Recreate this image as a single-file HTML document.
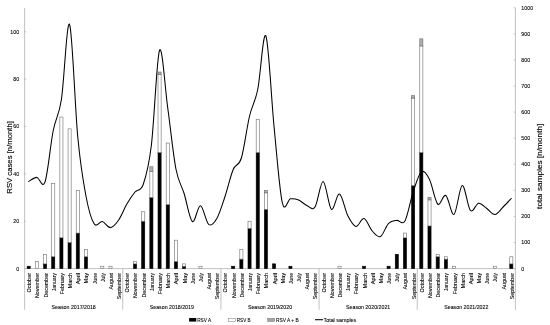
<!DOCTYPE html>
<html lang="en"><head><meta charset="utf-8"><title>RSV cases per month</title>
<style>html,body{margin:0;padding:0;background:#fff;}body{width:550px;height:325px;overflow:hidden;}svg{display:block;}</style>
</head><body>
<svg width="550" height="325" viewBox="0 0 550 325" font-family="'Liberation Sans', sans-serif" fill="#000">
<style>text{stroke:#000;stroke-width:0.09px;}text.t{stroke-width:0.14px;}</style>
<rect width="550" height="325" fill="#fff"/>
<g stroke="#a8a8a8" stroke-width="0.7" fill="none">
<line x1="24.6" y1="7.9" x2="24.6" y2="268.6"/>
<line x1="515.4" y1="7.9" x2="515.4" y2="268.6"/>
<line x1="24.6" y1="268.6" x2="515.4" y2="268.6"/>
<line x1="24.6" y1="268.60" x2="26.200000000000003" y2="268.60"/>
<line x1="24.6" y1="221.23" x2="26.200000000000003" y2="221.23"/>
<line x1="24.6" y1="173.86" x2="26.200000000000003" y2="173.86"/>
<line x1="24.6" y1="126.49" x2="26.200000000000003" y2="126.49"/>
<line x1="24.6" y1="79.12" x2="26.200000000000003" y2="79.12"/>
<line x1="24.6" y1="31.75" x2="26.200000000000003" y2="31.75"/>
<line x1="515.4" y1="268.60" x2="513.8" y2="268.60"/>
<line x1="515.4" y1="242.52" x2="513.8" y2="242.52"/>
<line x1="515.4" y1="216.43" x2="513.8" y2="216.43"/>
<line x1="515.4" y1="190.35" x2="513.8" y2="190.35"/>
<line x1="515.4" y1="164.26" x2="513.8" y2="164.26"/>
<line x1="515.4" y1="138.18" x2="513.8" y2="138.18"/>
<line x1="515.4" y1="112.09" x2="513.8" y2="112.09"/>
<line x1="515.4" y1="86.00" x2="513.8" y2="86.00"/>
<line x1="515.4" y1="59.92" x2="513.8" y2="59.92"/>
<line x1="515.4" y1="33.84" x2="513.8" y2="33.84"/>
<line x1="515.4" y1="7.75" x2="513.8" y2="7.75"/>
<line x1="24.60" y1="268.6" x2="24.60" y2="309.8"/>
<line x1="122.76" y1="268.6" x2="122.76" y2="309.8"/>
<line x1="220.92" y1="268.6" x2="220.92" y2="309.8"/>
<line x1="319.08" y1="268.6" x2="319.08" y2="309.8"/>
<line x1="417.24" y1="268.6" x2="417.24" y2="309.8"/>
<line x1="515.40" y1="268.6" x2="515.40" y2="309.8"/>
</g>
<g stroke-width="0.6">
<rect x="27.14" y="266.23" width="3.1" height="2.37" fill="#000" stroke="#000"/>
<rect x="35.32" y="261.49" width="3.1" height="7.11" fill="#fff" stroke="#6e6e6e"/>
<rect x="43.50" y="263.86" width="3.1" height="4.74" fill="#000" stroke="#000"/>
<rect x="43.50" y="254.39" width="3.1" height="9.47" fill="#fff" stroke="#6e6e6e"/>
<rect x="51.68" y="256.76" width="3.1" height="11.84" fill="#000" stroke="#000"/>
<rect x="51.68" y="183.33" width="3.1" height="73.42" fill="#fff" stroke="#6e6e6e"/>
<rect x="59.86" y="237.81" width="3.1" height="30.79" fill="#000" stroke="#000"/>
<rect x="59.86" y="117.02" width="3.1" height="120.79" fill="#fff" stroke="#6e6e6e"/>
<rect x="68.04" y="242.55" width="3.1" height="26.05" fill="#000" stroke="#000"/>
<rect x="68.04" y="128.86" width="3.1" height="113.69" fill="#fff" stroke="#6e6e6e"/>
<rect x="76.22" y="233.07" width="3.1" height="35.53" fill="#000" stroke="#000"/>
<rect x="76.22" y="190.44" width="3.1" height="42.63" fill="#fff" stroke="#6e6e6e"/>
<rect x="84.40" y="256.76" width="3.1" height="11.84" fill="#000" stroke="#000"/>
<rect x="84.40" y="249.65" width="3.1" height="7.11" fill="#fff" stroke="#6e6e6e"/>
<rect x="100.76" y="266.23" width="3.1" height="2.37" fill="#fff" stroke="#6e6e6e"/>
<rect x="108.94" y="266.23" width="3.1" height="2.37" fill="#fff" stroke="#6e6e6e"/>
<rect x="133.48" y="263.86" width="3.1" height="4.74" fill="#000" stroke="#000"/>
<rect x="133.48" y="261.49" width="3.1" height="2.37" fill="#fff" stroke="#6e6e6e"/>
<rect x="141.66" y="221.23" width="3.1" height="47.37" fill="#000" stroke="#000"/>
<rect x="141.66" y="211.76" width="3.1" height="9.47" fill="#fff" stroke="#6e6e6e"/>
<rect x="149.84" y="197.55" width="3.1" height="71.06" fill="#000" stroke="#000"/>
<rect x="149.84" y="171.49" width="3.1" height="26.05" fill="#fff" stroke="#6e6e6e"/>
<rect x="149.84" y="166.75" width="3.1" height="4.74" fill="#b0b0b0" stroke="#666"/>
<rect x="158.02" y="152.54" width="3.1" height="116.06" fill="#000" stroke="#000"/>
<rect x="158.02" y="74.38" width="3.1" height="78.16" fill="#fff" stroke="#6e6e6e"/>
<rect x="158.02" y="72.01" width="3.1" height="2.37" fill="#b0b0b0" stroke="#666"/>
<rect x="166.20" y="204.65" width="3.1" height="63.95" fill="#000" stroke="#000"/>
<rect x="166.20" y="143.07" width="3.1" height="61.58" fill="#fff" stroke="#6e6e6e"/>
<rect x="174.38" y="261.49" width="3.1" height="7.11" fill="#000" stroke="#000"/>
<rect x="174.38" y="240.18" width="3.1" height="21.32" fill="#fff" stroke="#6e6e6e"/>
<rect x="182.56" y="266.23" width="3.1" height="2.37" fill="#000" stroke="#000"/>
<rect x="182.56" y="263.86" width="3.1" height="2.37" fill="#fff" stroke="#6e6e6e"/>
<rect x="198.92" y="266.23" width="3.1" height="2.37" fill="#fff" stroke="#6e6e6e"/>
<rect x="231.64" y="266.23" width="3.1" height="2.37" fill="#000" stroke="#000"/>
<rect x="239.82" y="259.13" width="3.1" height="9.47" fill="#000" stroke="#000"/>
<rect x="239.82" y="249.65" width="3.1" height="9.47" fill="#fff" stroke="#6e6e6e"/>
<rect x="248.00" y="228.34" width="3.1" height="40.26" fill="#000" stroke="#000"/>
<rect x="248.00" y="221.23" width="3.1" height="7.11" fill="#fff" stroke="#6e6e6e"/>
<rect x="256.18" y="152.54" width="3.1" height="116.06" fill="#000" stroke="#000"/>
<rect x="256.18" y="119.38" width="3.1" height="33.16" fill="#fff" stroke="#6e6e6e"/>
<rect x="264.36" y="209.39" width="3.1" height="59.21" fill="#000" stroke="#000"/>
<rect x="264.36" y="192.81" width="3.1" height="16.58" fill="#fff" stroke="#6e6e6e"/>
<rect x="264.36" y="190.44" width="3.1" height="2.37" fill="#b0b0b0" stroke="#666"/>
<rect x="272.54" y="263.86" width="3.1" height="4.74" fill="#000" stroke="#000"/>
<rect x="288.90" y="266.23" width="3.1" height="2.37" fill="#000" stroke="#000"/>
<rect x="337.98" y="266.23" width="3.1" height="2.37" fill="#fff" stroke="#6e6e6e"/>
<rect x="362.52" y="266.23" width="3.1" height="2.37" fill="#000" stroke="#000"/>
<rect x="387.06" y="266.23" width="3.1" height="2.37" fill="#000" stroke="#000"/>
<rect x="395.24" y="254.39" width="3.1" height="14.21" fill="#000" stroke="#000"/>
<rect x="403.42" y="237.81" width="3.1" height="30.79" fill="#000" stroke="#000"/>
<rect x="403.42" y="233.07" width="3.1" height="4.74" fill="#fff" stroke="#6e6e6e"/>
<rect x="411.60" y="185.70" width="3.1" height="82.90" fill="#000" stroke="#000"/>
<rect x="411.60" y="98.07" width="3.1" height="87.63" fill="#fff" stroke="#6e6e6e"/>
<rect x="411.60" y="95.70" width="3.1" height="2.37" fill="#b0b0b0" stroke="#666"/>
<rect x="419.78" y="152.54" width="3.1" height="116.06" fill="#000" stroke="#000"/>
<rect x="419.78" y="45.96" width="3.1" height="106.58" fill="#fff" stroke="#6e6e6e"/>
<rect x="419.78" y="38.86" width="3.1" height="7.11" fill="#b0b0b0" stroke="#666"/>
<rect x="427.96" y="225.97" width="3.1" height="42.63" fill="#000" stroke="#000"/>
<rect x="427.96" y="199.91" width="3.1" height="26.05" fill="#fff" stroke="#6e6e6e"/>
<rect x="427.96" y="197.54" width="3.1" height="2.37" fill="#b0b0b0" stroke="#666"/>
<rect x="436.14" y="256.76" width="3.1" height="11.84" fill="#000" stroke="#000"/>
<rect x="436.14" y="254.39" width="3.1" height="2.37" fill="#fff" stroke="#6e6e6e"/>
<rect x="444.32" y="259.13" width="3.1" height="9.47" fill="#000" stroke="#000"/>
<rect x="444.32" y="256.76" width="3.1" height="2.37" fill="#fff" stroke="#6e6e6e"/>
<rect x="452.50" y="266.23" width="3.1" height="2.37" fill="#fff" stroke="#6e6e6e"/>
<rect x="493.40" y="266.23" width="3.1" height="2.37" fill="#fff" stroke="#6e6e6e"/>
<rect x="509.76" y="263.86" width="3.1" height="4.74" fill="#000" stroke="#000"/>
<rect x="509.76" y="256.76" width="3.1" height="7.11" fill="#fff" stroke="#6e6e6e"/>
</g>
<path d="M28.69,181.40 C30.05,180.73 34.14,177.33 36.87,177.40 C39.60,177.47 42.32,189.62 45.05,181.80 C47.78,173.98 50.50,144.22 53.23,130.50 C55.96,116.78 58.68,117.17 61.41,99.50 C64.14,81.83 66.86,18.25 69.59,24.50 C72.32,30.75 75.04,108.42 77.77,137.00 C80.50,165.58 83.22,181.53 85.95,196.00 C88.68,210.47 91.40,219.55 94.13,223.80 C96.86,228.05 99.58,220.87 102.31,221.50 C105.04,222.13 107.76,227.85 110.49,227.60 C113.22,227.35 115.94,223.93 118.67,220.00 C121.40,216.07 124.12,208.67 126.85,204.00 C129.58,199.33 132.30,195.25 135.03,192.00 C137.76,188.75 140.48,192.33 143.21,184.50 C145.94,176.67 148.66,167.37 151.39,145.00 C154.12,122.63 156.84,56.47 159.57,50.30 C162.30,44.13 165.02,88.22 167.75,108.00 C170.48,127.78 173.20,154.75 175.93,169.00 C178.66,183.25 181.38,184.75 184.11,193.50 C186.84,202.25 189.56,219.45 192.29,221.50 C195.02,223.55 197.74,205.33 200.47,205.80 C203.20,206.27 205.92,222.18 208.65,224.30 C211.38,226.42 214.10,223.13 216.83,218.50 C219.56,213.87 222.28,204.67 225.01,196.50 C227.74,188.33 230.46,175.92 233.19,169.50 C235.92,163.08 238.64,166.92 241.37,158.00 C244.10,149.08 246.82,127.42 249.55,116.00 C252.28,104.58 255.00,102.83 257.73,89.50 C260.46,76.17 263.18,29.75 265.91,36.00 C268.64,42.25 271.36,99.25 274.09,127.00 C276.82,154.75 279.54,190.53 282.27,202.50 C285.00,214.47 287.72,199.22 290.45,198.80 C293.18,198.38 295.90,198.88 298.63,200.00 C301.36,201.12 304.08,204.33 306.81,205.50 C309.54,206.67 312.26,211.00 314.99,207.00 C317.72,203.00 320.44,181.12 323.17,181.50 C325.90,181.88 328.62,207.22 331.35,209.30 C334.08,211.38 336.80,192.97 339.53,194.00 C342.26,195.03 344.98,210.10 347.71,215.50 C350.44,220.90 353.16,225.90 355.89,226.40 C358.62,226.90 361.34,217.73 364.07,218.50 C366.80,219.27 369.52,228.00 372.25,231.00 C374.98,234.00 377.70,237.78 380.43,236.50 C383.16,235.22 385.88,225.98 388.61,223.30 C391.34,220.62 394.06,220.80 396.79,220.40 C399.52,220.00 402.24,225.63 404.97,220.90 C407.70,216.17 410.42,200.17 413.15,192.00 C415.88,183.83 418.60,173.98 421.33,171.90 C424.06,169.82 426.78,174.15 429.51,179.50 C432.24,184.85 434.96,201.33 437.69,204.00 C440.42,206.67 443.14,193.77 445.87,195.50 C448.60,197.23 451.32,216.07 454.05,214.40 C456.78,212.73 459.50,186.15 462.23,185.50 C464.96,184.85 467.68,207.55 470.41,210.50 C473.14,213.45 475.86,203.53 478.59,203.20 C481.32,202.87 484.04,206.62 486.77,208.50 C489.50,210.38 492.22,214.75 494.95,214.50 C497.68,214.25 500.40,209.67 503.13,207.00 C505.86,204.33 509.95,199.92 511.31,198.50" fill="none" stroke="#000" stroke-width="1.05" stroke-linejoin="round" stroke-linecap="round"/>
<text x="19.20" y="270.50" font-size="5.79" text-anchor="end" textLength="2.97" lengthAdjust="spacingAndGlyphs">0</text>
<text x="19.20" y="223.13" font-size="5.79" text-anchor="end" textLength="5.93" lengthAdjust="spacingAndGlyphs">20</text>
<text x="19.20" y="175.76" font-size="5.79" text-anchor="end" textLength="5.93" lengthAdjust="spacingAndGlyphs">40</text>
<text x="19.20" y="128.39" font-size="5.79" text-anchor="end" textLength="5.93" lengthAdjust="spacingAndGlyphs">60</text>
<text x="19.20" y="81.02" font-size="5.79" text-anchor="end" textLength="5.93" lengthAdjust="spacingAndGlyphs">80</text>
<text x="19.20" y="33.65" font-size="5.79" text-anchor="end" textLength="8.90" lengthAdjust="spacingAndGlyphs">100</text>
<text x="521.30" y="270.50" font-size="5.79" text-anchor="start" textLength="2.97" lengthAdjust="spacingAndGlyphs">0</text>
<text x="521.30" y="244.42" font-size="5.79" text-anchor="start" textLength="8.90" lengthAdjust="spacingAndGlyphs">100</text>
<text x="521.30" y="218.33" font-size="5.79" text-anchor="start" textLength="8.90" lengthAdjust="spacingAndGlyphs">200</text>
<text x="521.30" y="192.25" font-size="5.79" text-anchor="start" textLength="8.90" lengthAdjust="spacingAndGlyphs">300</text>
<text x="521.30" y="166.16" font-size="5.79" text-anchor="start" textLength="8.90" lengthAdjust="spacingAndGlyphs">400</text>
<text x="521.30" y="140.08" font-size="5.79" text-anchor="start" textLength="8.90" lengthAdjust="spacingAndGlyphs">500</text>
<text x="521.30" y="113.99" font-size="5.79" text-anchor="start" textLength="8.90" lengthAdjust="spacingAndGlyphs">600</text>
<text x="521.30" y="87.91" font-size="5.79" text-anchor="start" textLength="8.90" lengthAdjust="spacingAndGlyphs">700</text>
<text x="521.30" y="61.82" font-size="5.79" text-anchor="start" textLength="8.90" lengthAdjust="spacingAndGlyphs">800</text>
<text x="521.30" y="35.74" font-size="5.79" text-anchor="start" textLength="8.90" lengthAdjust="spacingAndGlyphs">900</text>
<text x="521.30" y="9.65" font-size="5.79" text-anchor="start" textLength="11.86" lengthAdjust="spacingAndGlyphs">1000</text>
<g transform="translate(31.14,273) rotate(-90)"><text x="0.00" y="0.00" font-size="5.79" text-anchor="end" textLength="19.42" lengthAdjust="spacingAndGlyphs">October</text></g>
<g transform="translate(39.32,273) rotate(-90)"><text x="0.00" y="0.00" font-size="5.79" text-anchor="end" textLength="25.12" lengthAdjust="spacingAndGlyphs">November</text></g>
<g transform="translate(47.50,273) rotate(-90)"><text x="0.00" y="0.00" font-size="5.79" text-anchor="end" textLength="24.60" lengthAdjust="spacingAndGlyphs">December</text></g>
<g transform="translate(55.68,273) rotate(-90)"><text x="0.00" y="0.00" font-size="5.79" text-anchor="end" textLength="18.30" lengthAdjust="spacingAndGlyphs">January</text></g>
<g transform="translate(63.86,273) rotate(-90)"><text x="0.00" y="0.00" font-size="5.79" text-anchor="end" textLength="21.28" lengthAdjust="spacingAndGlyphs">February</text></g>
<g transform="translate(72.04,273) rotate(-90)"><text x="0.00" y="0.00" font-size="5.79" text-anchor="end" textLength="15.39" lengthAdjust="spacingAndGlyphs">March</text></g>
<g transform="translate(80.22,273) rotate(-90)"><text x="0.00" y="0.00" font-size="5.79" text-anchor="end" textLength="11.18" lengthAdjust="spacingAndGlyphs">April</text></g>
<g transform="translate(88.40,273) rotate(-90)"><text x="0.00" y="0.00" font-size="5.79" text-anchor="end" textLength="10.45" lengthAdjust="spacingAndGlyphs">May</text></g>
<g transform="translate(96.58,273) rotate(-90)"><text x="0.00" y="0.00" font-size="5.79" text-anchor="end" textLength="10.92" lengthAdjust="spacingAndGlyphs">June</text></g>
<g transform="translate(104.76,273) rotate(-90)"><text x="0.00" y="0.00" font-size="5.79" text-anchor="end" textLength="8.93" lengthAdjust="spacingAndGlyphs">July</text></g>
<g transform="translate(112.94,273) rotate(-90)"><text x="0.00" y="0.00" font-size="5.79" text-anchor="end" textLength="16.53" lengthAdjust="spacingAndGlyphs">August</text></g>
<g transform="translate(121.12,273) rotate(-90)"><text x="0.00" y="0.00" font-size="5.79" text-anchor="end" textLength="26.24" lengthAdjust="spacingAndGlyphs">September</text></g>
<g transform="translate(129.30,273) rotate(-90)"><text x="0.00" y="0.00" font-size="5.79" text-anchor="end" textLength="19.42" lengthAdjust="spacingAndGlyphs">October</text></g>
<g transform="translate(137.48,273) rotate(-90)"><text x="0.00" y="0.00" font-size="5.79" text-anchor="end" textLength="25.12" lengthAdjust="spacingAndGlyphs">November</text></g>
<g transform="translate(145.66,273) rotate(-90)"><text x="0.00" y="0.00" font-size="5.79" text-anchor="end" textLength="24.60" lengthAdjust="spacingAndGlyphs">December</text></g>
<g transform="translate(153.84,273) rotate(-90)"><text x="0.00" y="0.00" font-size="5.79" text-anchor="end" textLength="18.30" lengthAdjust="spacingAndGlyphs">January</text></g>
<g transform="translate(162.02,273) rotate(-90)"><text x="0.00" y="0.00" font-size="5.79" text-anchor="end" textLength="21.28" lengthAdjust="spacingAndGlyphs">February</text></g>
<g transform="translate(170.20,273) rotate(-90)"><text x="0.00" y="0.00" font-size="5.79" text-anchor="end" textLength="15.39" lengthAdjust="spacingAndGlyphs">March</text></g>
<g transform="translate(178.38,273) rotate(-90)"><text x="0.00" y="0.00" font-size="5.79" text-anchor="end" textLength="11.18" lengthAdjust="spacingAndGlyphs">April</text></g>
<g transform="translate(186.56,273) rotate(-90)"><text x="0.00" y="0.00" font-size="5.79" text-anchor="end" textLength="10.45" lengthAdjust="spacingAndGlyphs">May</text></g>
<g transform="translate(194.74,273) rotate(-90)"><text x="0.00" y="0.00" font-size="5.79" text-anchor="end" textLength="10.92" lengthAdjust="spacingAndGlyphs">June</text></g>
<g transform="translate(202.92,273) rotate(-90)"><text x="0.00" y="0.00" font-size="5.79" text-anchor="end" textLength="8.93" lengthAdjust="spacingAndGlyphs">July</text></g>
<g transform="translate(211.10,273) rotate(-90)"><text x="0.00" y="0.00" font-size="5.79" text-anchor="end" textLength="16.53" lengthAdjust="spacingAndGlyphs">August</text></g>
<g transform="translate(219.28,273) rotate(-90)"><text x="0.00" y="0.00" font-size="5.79" text-anchor="end" textLength="26.24" lengthAdjust="spacingAndGlyphs">September</text></g>
<g transform="translate(227.46,273) rotate(-90)"><text x="0.00" y="0.00" font-size="5.79" text-anchor="end" textLength="19.42" lengthAdjust="spacingAndGlyphs">October</text></g>
<g transform="translate(235.64,273) rotate(-90)"><text x="0.00" y="0.00" font-size="5.79" text-anchor="end" textLength="25.12" lengthAdjust="spacingAndGlyphs">November</text></g>
<g transform="translate(243.82,273) rotate(-90)"><text x="0.00" y="0.00" font-size="5.79" text-anchor="end" textLength="24.60" lengthAdjust="spacingAndGlyphs">December</text></g>
<g transform="translate(252.00,273) rotate(-90)"><text x="0.00" y="0.00" font-size="5.79" text-anchor="end" textLength="18.30" lengthAdjust="spacingAndGlyphs">January</text></g>
<g transform="translate(260.18,273) rotate(-90)"><text x="0.00" y="0.00" font-size="5.79" text-anchor="end" textLength="21.28" lengthAdjust="spacingAndGlyphs">February</text></g>
<g transform="translate(268.36,273) rotate(-90)"><text x="0.00" y="0.00" font-size="5.79" text-anchor="end" textLength="15.39" lengthAdjust="spacingAndGlyphs">March</text></g>
<g transform="translate(276.54,273) rotate(-90)"><text x="0.00" y="0.00" font-size="5.79" text-anchor="end" textLength="11.18" lengthAdjust="spacingAndGlyphs">April</text></g>
<g transform="translate(284.72,273) rotate(-90)"><text x="0.00" y="0.00" font-size="5.79" text-anchor="end" textLength="10.45" lengthAdjust="spacingAndGlyphs">May</text></g>
<g transform="translate(292.90,273) rotate(-90)"><text x="0.00" y="0.00" font-size="5.79" text-anchor="end" textLength="10.92" lengthAdjust="spacingAndGlyphs">June</text></g>
<g transform="translate(301.08,273) rotate(-90)"><text x="0.00" y="0.00" font-size="5.79" text-anchor="end" textLength="8.93" lengthAdjust="spacingAndGlyphs">July</text></g>
<g transform="translate(309.26,273) rotate(-90)"><text x="0.00" y="0.00" font-size="5.79" text-anchor="end" textLength="16.53" lengthAdjust="spacingAndGlyphs">August</text></g>
<g transform="translate(317.44,273) rotate(-90)"><text x="0.00" y="0.00" font-size="5.79" text-anchor="end" textLength="26.24" lengthAdjust="spacingAndGlyphs">September</text></g>
<g transform="translate(325.62,273) rotate(-90)"><text x="0.00" y="0.00" font-size="5.79" text-anchor="end" textLength="19.42" lengthAdjust="spacingAndGlyphs">October</text></g>
<g transform="translate(333.80,273) rotate(-90)"><text x="0.00" y="0.00" font-size="5.79" text-anchor="end" textLength="25.12" lengthAdjust="spacingAndGlyphs">November</text></g>
<g transform="translate(341.98,273) rotate(-90)"><text x="0.00" y="0.00" font-size="5.79" text-anchor="end" textLength="24.60" lengthAdjust="spacingAndGlyphs">December</text></g>
<g transform="translate(350.16,273) rotate(-90)"><text x="0.00" y="0.00" font-size="5.79" text-anchor="end" textLength="18.30" lengthAdjust="spacingAndGlyphs">January</text></g>
<g transform="translate(358.34,273) rotate(-90)"><text x="0.00" y="0.00" font-size="5.79" text-anchor="end" textLength="21.28" lengthAdjust="spacingAndGlyphs">February</text></g>
<g transform="translate(366.52,273) rotate(-90)"><text x="0.00" y="0.00" font-size="5.79" text-anchor="end" textLength="15.39" lengthAdjust="spacingAndGlyphs">March</text></g>
<g transform="translate(374.70,273) rotate(-90)"><text x="0.00" y="0.00" font-size="5.79" text-anchor="end" textLength="11.18" lengthAdjust="spacingAndGlyphs">April</text></g>
<g transform="translate(382.88,273) rotate(-90)"><text x="0.00" y="0.00" font-size="5.79" text-anchor="end" textLength="10.45" lengthAdjust="spacingAndGlyphs">May</text></g>
<g transform="translate(391.06,273) rotate(-90)"><text x="0.00" y="0.00" font-size="5.79" text-anchor="end" textLength="10.92" lengthAdjust="spacingAndGlyphs">June</text></g>
<g transform="translate(399.24,273) rotate(-90)"><text x="0.00" y="0.00" font-size="5.79" text-anchor="end" textLength="8.93" lengthAdjust="spacingAndGlyphs">July</text></g>
<g transform="translate(407.42,273) rotate(-90)"><text x="0.00" y="0.00" font-size="5.79" text-anchor="end" textLength="16.53" lengthAdjust="spacingAndGlyphs">August</text></g>
<g transform="translate(415.60,273) rotate(-90)"><text x="0.00" y="0.00" font-size="5.79" text-anchor="end" textLength="26.24" lengthAdjust="spacingAndGlyphs">September</text></g>
<g transform="translate(423.78,273) rotate(-90)"><text x="0.00" y="0.00" font-size="5.79" text-anchor="end" textLength="19.42" lengthAdjust="spacingAndGlyphs">October</text></g>
<g transform="translate(431.96,273) rotate(-90)"><text x="0.00" y="0.00" font-size="5.79" text-anchor="end" textLength="25.12" lengthAdjust="spacingAndGlyphs">November</text></g>
<g transform="translate(440.14,273) rotate(-90)"><text x="0.00" y="0.00" font-size="5.79" text-anchor="end" textLength="24.60" lengthAdjust="spacingAndGlyphs">December</text></g>
<g transform="translate(448.32,273) rotate(-90)"><text x="0.00" y="0.00" font-size="5.79" text-anchor="end" textLength="18.30" lengthAdjust="spacingAndGlyphs">January</text></g>
<g transform="translate(456.50,273) rotate(-90)"><text x="0.00" y="0.00" font-size="5.79" text-anchor="end" textLength="21.28" lengthAdjust="spacingAndGlyphs">February</text></g>
<g transform="translate(464.68,273) rotate(-90)"><text x="0.00" y="0.00" font-size="5.79" text-anchor="end" textLength="15.39" lengthAdjust="spacingAndGlyphs">March</text></g>
<g transform="translate(472.86,273) rotate(-90)"><text x="0.00" y="0.00" font-size="5.79" text-anchor="end" textLength="11.18" lengthAdjust="spacingAndGlyphs">April</text></g>
<g transform="translate(481.04,273) rotate(-90)"><text x="0.00" y="0.00" font-size="5.79" text-anchor="end" textLength="10.45" lengthAdjust="spacingAndGlyphs">May</text></g>
<g transform="translate(489.22,273) rotate(-90)"><text x="0.00" y="0.00" font-size="5.79" text-anchor="end" textLength="10.92" lengthAdjust="spacingAndGlyphs">June</text></g>
<g transform="translate(497.40,273) rotate(-90)"><text x="0.00" y="0.00" font-size="5.79" text-anchor="end" textLength="8.93" lengthAdjust="spacingAndGlyphs">July</text></g>
<g transform="translate(505.58,273) rotate(-90)"><text x="0.00" y="0.00" font-size="5.79" text-anchor="end" textLength="16.53" lengthAdjust="spacingAndGlyphs">August</text></g>
<g transform="translate(513.76,273) rotate(-90)"><text x="0.00" y="0.00" font-size="5.79" text-anchor="end" textLength="26.24" lengthAdjust="spacingAndGlyphs">September</text></g>
<text x="73.68" y="308.70" font-size="5.79" text-anchor="middle" textLength="44.15" lengthAdjust="spacingAndGlyphs">Season 2017/2018</text>
<text x="171.84" y="308.70" font-size="5.79" text-anchor="middle" textLength="44.15" lengthAdjust="spacingAndGlyphs">Season 2018/2019</text>
<text x="270.00" y="308.70" font-size="5.79" text-anchor="middle" textLength="44.15" lengthAdjust="spacingAndGlyphs">Season 2019/2020</text>
<text x="368.16" y="308.70" font-size="5.79" text-anchor="middle" textLength="44.15" lengthAdjust="spacingAndGlyphs">Season 2020/2021</text>
<text x="466.32" y="308.70" font-size="5.79" text-anchor="middle" textLength="44.15" lengthAdjust="spacingAndGlyphs">Season 2021/2022</text>
<g transform="translate(11.5,157.4) rotate(-90)"><text x="0.00" y="0.00" font-size="8.08" text-anchor="middle" textLength="72.58" lengthAdjust="spacingAndGlyphs" class="t">RSV cases [n/month]</text></g>
<g transform="translate(541.9,166.3) rotate(-90)"><text x="0.00" y="0.00" font-size="8.08" text-anchor="middle" textLength="85.18" lengthAdjust="spacingAndGlyphs" class="t">total samples [n/month]</text></g>
<rect x="189.1" y="318.0" width="7.2" height="3.6" fill="#000"/>
<text x="197.20" y="321.60" font-size="5.79" text-anchor="start" textLength="13.89" lengthAdjust="spacingAndGlyphs">RSV A</text>
<rect x="228.5" y="318.3" width="7.0" height="3.2" fill="#fff" stroke="#777" stroke-width="0.5"/>
<text x="236.80" y="321.60" font-size="5.79" text-anchor="start" textLength="13.68" lengthAdjust="spacingAndGlyphs">RSV B</text>
<rect x="267.7" y="318.3" width="7.0" height="3.2" fill="#a6a6a6" stroke="#777" stroke-width="0.5"/>
<text x="276.00" y="321.60" font-size="5.79" text-anchor="start" textLength="22.63" lengthAdjust="spacingAndGlyphs">RSV A + B</text>
<line x1="315" y1="319.7" x2="323" y2="319.7" stroke="#000" stroke-width="1.05"/>
<text x="323.50" y="321.60" font-size="5.79" text-anchor="start" textLength="32.73" lengthAdjust="spacingAndGlyphs">Total samples</text>
</svg>
</body></html>
